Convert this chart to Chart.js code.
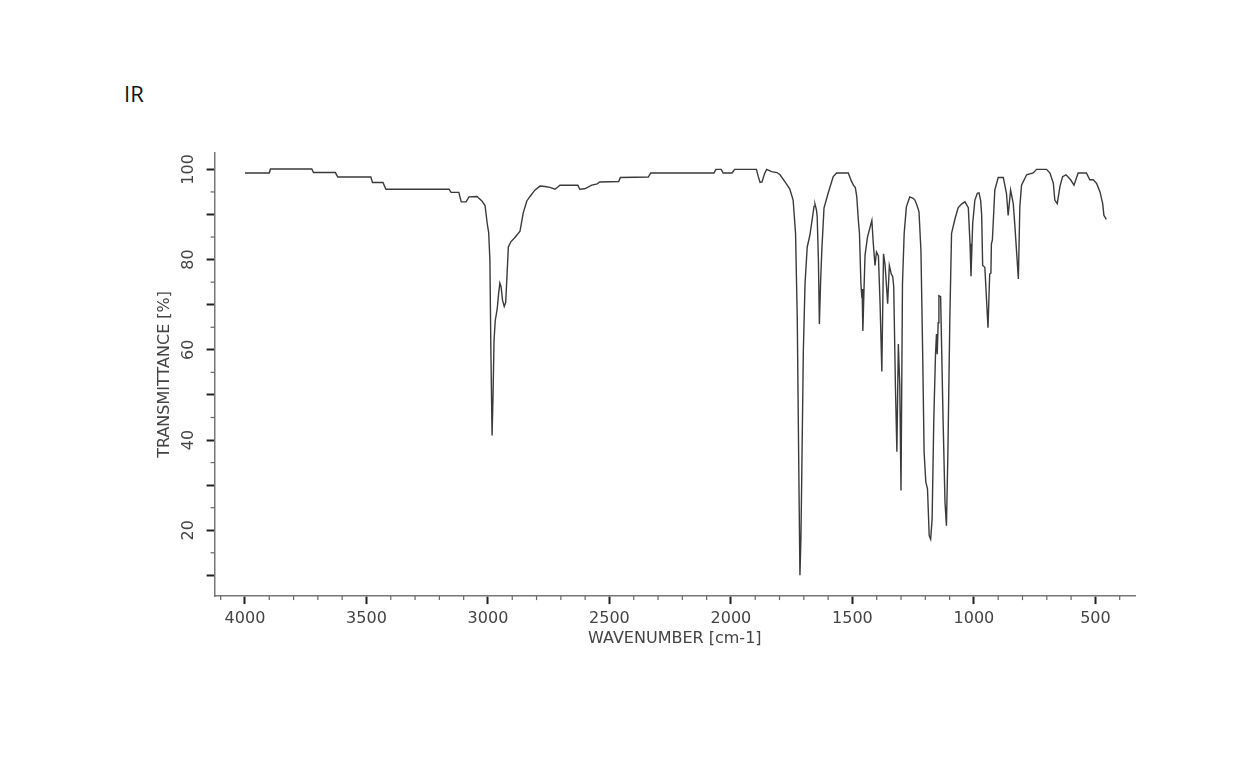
<!DOCTYPE html>
<html>
<head>
<meta charset="utf-8">
<script src="https://cdn.jsdelivr.net/npm/chart.js@4.4.1/dist/chart.umd.min.js"></script>
<style>
html,body{margin:0;padding:0;background:#fff;}
#wrap{position:relative;width:1254px;height:784px;}
#title{position:absolute;left:124px;top:78px;font:22px "Open Sans",sans-serif;color:#111;line-height:30px;}
canvas{position:absolute;left:0;top:0;}
</style>
</head>
<body>
<div id="wrap"><div id="title"></div><canvas id="c" width="1254" height="784"></canvas></div>
<script>
const chartTitle = 'IR';
const xAxisTitle = 'WAVENUMBER [cm-1]';
const yAxisTitle = 'TRANSMITTANCE [%]';

const wavenumbers = [
 4000,3900,3895,3725,3718,3628,3618,3482,3475,3432,3420,3160,3152,3120,3110,3090,3078,3045,3025,3012,
 3003,2997,2992,2988,2983,2979,2975,2970,2962,2956,2951,2946,2940,2933,2927,2922,2916,2905,2889,2868,
 2855,2840,2827,2807,2786,2765,2745,2724,2710,2704,2630,2622,2603,2590,2573,2550,2540,2462,2455,2340,
 2330,2070,2062,2040,2032,1995,1985,1895,1888,1880,1872,1862,1853,1833,1810,1798,1778,1758,1744,1734,
 1727,1720,1716,1712,1709,1702,1695,1686,1675,1664,1658,1654,1648,1645,1640,1636,1631,1626,1617,1600,
 1579,1565,1517,1505,1496,1488,1482,1476,1471,1465,1461,1460,1457,1452,1448,1438,1420,1414,1407,1401,
 1393,1386,1379,1372,1366,1362,1355,1348,1340,1334,1330,1323,1317,1311,1305,1300,1294,1287,1278,1264,
 1250,1243,1234,1226,1218,1211,1205,1198,1191,1184,1178,1172,1165,1158,1154,1151,1147,1144,1137,1127,
 1119,1113,1107,1099,1092,1078,1065,1051,1037,1023,1016,1012,1005,996,986,979,972,968,964,955,
 942,935,930,928,924,914,900,879,866,859,849,838,831,817,811,804,783,756,742,701,
 687,673,667,657,646,635,621,602,588,571,537,523,509,495,481,470,465,455
];
const transmittance = [
 99.2,99.2,100.1,100.1,99.3,99.3,98.3,98.3,97.1,97.1,95.6,95.6,94.9,94.9,92.8,92.8,93.9,94.0,93.0,92.0,
 88.0,86.0,80.0,60.0,41.0,50.0,62.0,66.5,69.0,72.5,74.8,74.0,71.0,69.6,70.5,76.0,82.8,84.0,84.9,86.3,
 90.3,93.0,94.0,95.4,96.3,96.2,96.0,95.6,96.2,96.5,96.5,95.6,95.7,96.0,96.5,96.8,97.2,97.3,98.2,98.3,
 99.2,99.2,100.0,100.0,99.2,99.2,100.0,100.0,98.5,97.1,97.2,99.0,100.0,99.5,99.3,98.8,97.3,95.7,93.2,85.8,
 67.0,30.0,10.0,18.0,30.0,59.7,74.7,82.8,85.4,89.5,91.8,92.3,91.0,89.5,80.0,65.7,75.0,82.0,91.4,94.7,
 98.4,99.2,99.2,97.5,96.5,96.0,93.9,89.0,85.8,74.6,71.5,73.5,64.2,74.0,81.0,85.0,88.7,83.5,78.7,81.7,
 80.8,70.0,55.2,81.3,79.0,76.0,70.2,78.7,76.8,76.2,74.0,52.0,37.4,61.3,52.0,28.8,74.6,85.8,91.7,93.9,
 93.6,93.2,92.0,90.6,82.0,59.7,37.4,30.7,29.2,18.8,18.0,22.5,44.8,59.0,63.5,59.0,66.0,72.0,71.8,44.8,
 26.2,21.0,37.4,67.1,85.8,89.0,91.5,92.3,92.8,91.5,83.5,76.3,88.0,93.2,94.7,94.8,93.0,89.8,78.7,78.3,
 64.9,76.8,77.0,83.5,84.3,95.4,98.2,98.2,94.7,89.8,95.4,92.4,87.2,75.7,91.7,96.5,98.8,99.2,100.0,100.0,
 99.2,96.9,93.2,92.4,96.2,98.4,98.8,97.7,96.5,99.2,99.2,97.7,97.7,96.9,95.0,92.4,89.8,88.9
];

const xMajorTicks = [4000,3500,3000,2500,2000,1500,1000,500];
const xMinorTicks = [4100,3900,3800,3700,3600,3400,3300,3200,3100,2900,2800,2700,2600,2400,2300,2200,2100,
  1900,1800,1700,1600,1400,1300,1200,1100,900,800,700,600,400];
const yMajorTicks = [100,90,80,70,60,50,40,30,20,10];
const yLabelTicks = [100,80,60,40,20];
const yMinorTicks = [95,85,75,65,55,45,35,25,15];

document.getElementById('title').textContent = chartTitle;

const axisFont = {family:'DejaVu Sans', size:16};
const labelColor = '#444';

const tickPlugin = {
  id: 'extraTicks',
  afterDraw(chart) {
    const {ctx, chartArea, scales} = chart;
    const x = scales.x, y = scales.y;
    ctx.save();
    ctx.strokeStyle = '#666';
    ctx.lineWidth = 1.2;
    xMinorTicks.forEach(v => {
      const px = x.getPixelForValue(v);
      ctx.beginPath(); ctx.moveTo(px, chartArea.bottom); ctx.lineTo(px, chartArea.bottom + 4); ctx.stroke();
    });
    yMinorTicks.forEach(v => {
      const py = y.getPixelForValue(v);
      ctx.beginPath(); ctx.moveTo(chartArea.left - 4, py); ctx.lineTo(chartArea.left, py); ctx.stroke();
    });
    ctx.fillStyle = labelColor;
    ctx.font = '16px "DejaVu Sans"';
    ctx.textAlign = 'center';
    ctx.textBaseline = 'middle';
    yLabelTicks.forEach(v => {
      const py = y.getPixelForValue(v);
      ctx.save();
      ctx.translate(chartArea.left - 25.6, py);
      ctx.rotate(-Math.PI / 2);
      ctx.fillText(String(v), 0, 0);
      ctx.restore();
    });
    ctx.restore();
  }
};

const points = wavenumbers.map((w, i) => ({x: w, y: transmittance[i]}));

new Chart(document.getElementById('c'), {
  type: 'line',
  data: {datasets: [{data: points, borderColor: '#3a3a3a', borderWidth: 1.4, pointRadius: 0, fill: false, tension: 0}]},
  options: {
    responsive: false,
    animation: false,
    layout: {padding: {left: 155.4, right: 119, top: 152.7, bottom: 135.5}},
    plugins: {legend: {display: false}, tooltip: {enabled: false}, title: {display: false}},
    scales: {
      x: {
        type: 'linear', reverse: true, min: 337, max: 4125,
        afterBuildTicks: s => { s.ticks = xMajorTicks.map(v => ({value: v})); },
        ticks: {font: axisFont, color: labelColor, padding: 5, maxRotation: 0, autoSkip: false, callback: v => String(v)},
        grid: {drawOnChartArea: false, drawTicks: true, tickLength: 8, tickColor: '#222', tickWidth: 2},
        border: {display: true, color: '#777', width: 1.5},
        title: {display: true, text: xAxisTitle, font: axisFont, color: labelColor, padding: {top: -4, bottom: 0}}
      },
      y: {
        type: 'linear', min: 5.4, max: 103.7,
        afterBuildTicks: s => { s.ticks = yMajorTicks.map(v => ({value: v})); },
        ticks: {callback: () => '', padding: 0},
        grid: {drawOnChartArea: false, drawTicks: true, tickLength: 8, tickColor: '#222', tickWidth: 2},
        border: {display: true, color: '#777', width: 1.5},
        title: {display: true, text: yAxisTitle, font: axisFont, color: labelColor, padding: {top: 0, bottom: 32}}
      }
    }
  },
  plugins: [tickPlugin]
});
</script>
</body>
</html>
